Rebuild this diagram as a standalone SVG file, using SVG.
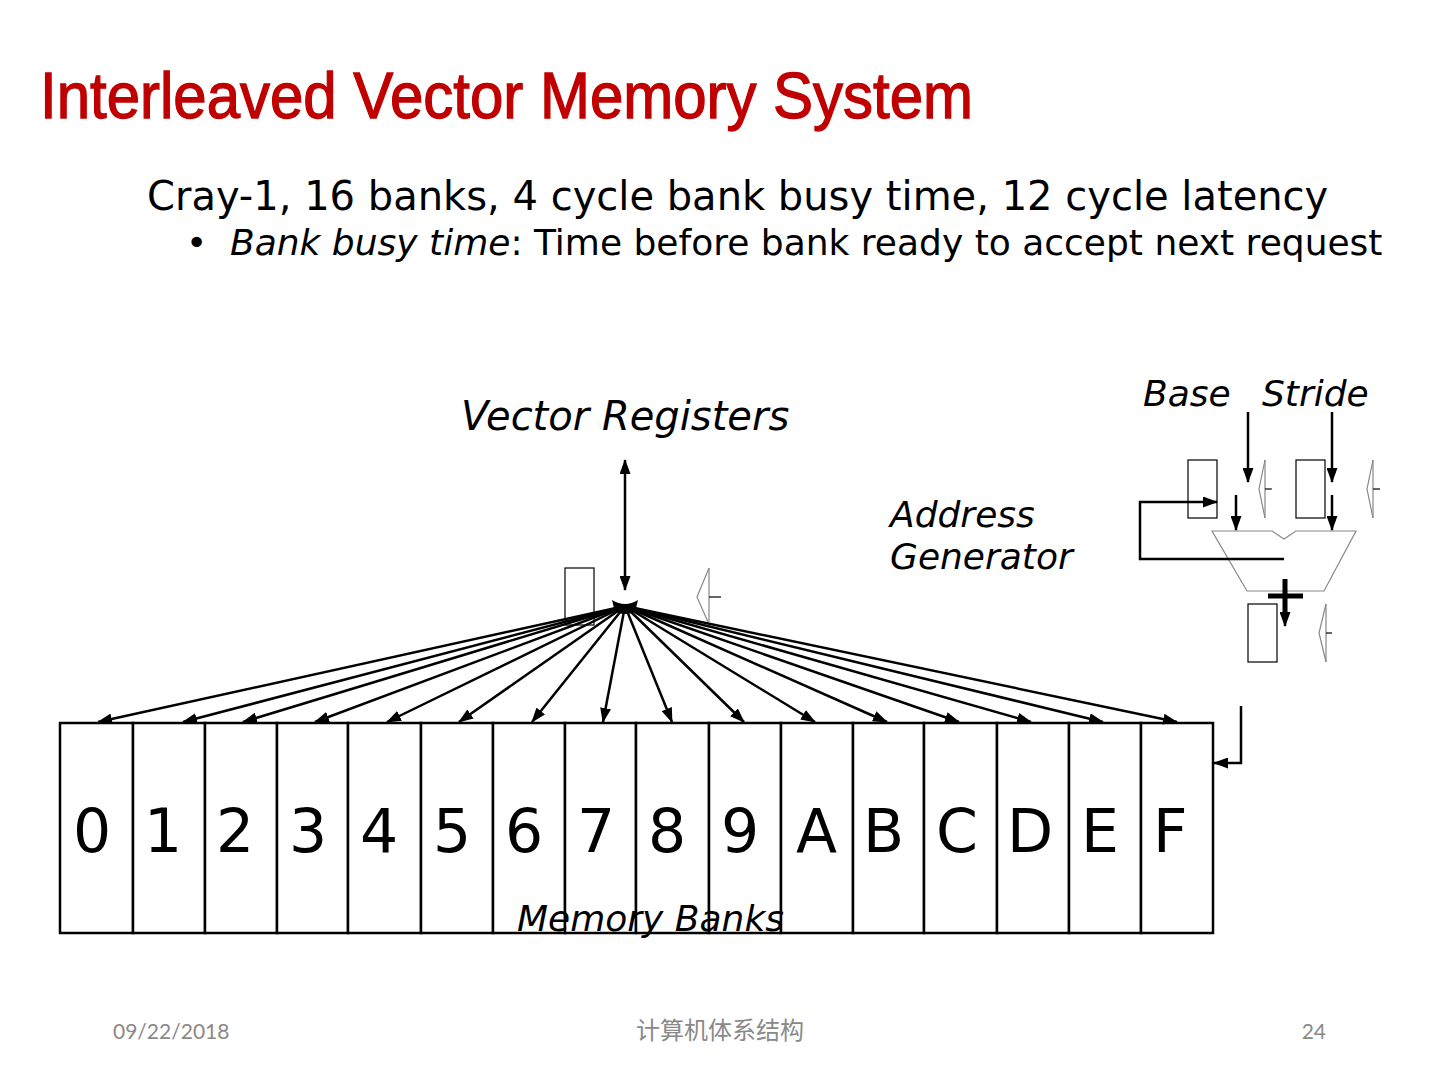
<svg xmlns="http://www.w3.org/2000/svg" width="1440" height="1080" viewBox="0 0 1440 1080">
<defs>
<style>
.t{font-family:"DejaVu Sans","Noto Sans",sans-serif;fill:#000}
.it{font-style:italic}
.bank{fill:#fff;stroke:#000;stroke-width:2.5}
.dig{font-family:"DejaVu Sans",sans-serif;font-size:60px;fill:#000}
.reg{fill:#fff;stroke:#000;stroke-width:1.2}
.clk{fill:none;stroke:#888;stroke-width:1.2}
.tick{stroke:#000;stroke-width:1.2}
.ln{stroke:#000;stroke-width:2.5;fill:none}
.foot{font-family:Lato,"Open Sans","Noto Sans CJK SC",sans-serif;font-size:21px;fill:#898989}
</style>
<marker id="ah" markerUnits="userSpaceOnUse" markerWidth="15" markerHeight="11" refX="14" refY="5.5" orient="auto">
<path d="M0,0 L15,5.5 L0,11 Z" fill="#000"/>
</marker>
<marker id="ahs" markerUnits="userSpaceOnUse" markerWidth="15" markerHeight="11" refX="1" refY="5.5" orient="auto">
<path d="M15,0 L0,5.5 L15,11 Z" fill="#000"/>
</marker>
</defs>
<rect width="1440" height="1080" fill="#fff"/>

<g id="title">
<text x="40" y="118" font-family="'Liberation Sans',Arial,sans-serif" font-size="65" fill="#C00000" stroke="#C00000" stroke-width="1.3" textLength="933" lengthAdjust="spacingAndGlyphs">Interleaved Vector Memory System</text>
</g>

<g id="body-text">
<text class="t" x="147" y="210" font-size="40">Cray-1, 16 banks, 4 cycle bank busy time, 12 cycle latency</text>
<text class="t" x="186" y="255" font-size="36">•</text>
<text class="t" x="230" y="255" font-size="36"><tspan class="it">Bank busy time</tspan>: Time before bank ready to accept next request</text>
</g>

<g id="vector-registers">
<text class="t it" x="461" y="430" font-size="40">Vector Registers</text>
<rect class="reg" x="565" y="568" width="29" height="57"/>
<polyline class="clk" points="709,568 697,597 708,622"/>
<line class="clk" x1="709" y1="568" x2="709" y2="622"/>
<line class="tick" x1="709" y1="597" x2="721" y2="597"/>
<path d="M612,600 Q625,608 638,600 L635,612 Q625,616 615,612 Z" fill="#000"/>
</g>

<g id="address-generator">
<text class="t it" x="890" y="527" font-size="36">Address</text>
<text class="t it" x="890" y="569" font-size="36">Generator</text>
<text class="t it" x="1143" y="406" font-size="36">Base</text>
<text class="t it" x="1262" y="406" font-size="36">Stride</text>
<rect class="reg" x="1188" y="460" width="29" height="58"/>
<polyline class="clk" points="1265,460 1259,489 1265,518"/>
<line class="clk" x1="1265" y1="460" x2="1265" y2="518"/>
<line class="tick" x1="1265" y1="489" x2="1272" y2="489"/>
<rect class="reg" x="1296" y="460" width="29" height="58"/>
<polyline class="clk" points="1373,460 1367,489 1373,518"/>
<line class="clk" x1="1373" y1="460" x2="1373" y2="518"/>
<line class="tick" x1="1373" y1="489" x2="1380" y2="489"/>
<path d="M1212,531 L1272,531 L1284,539 L1296,531 L1356,531 L1324,591 L1247,591 Z" fill="none" stroke="#888" stroke-width="1.2"/>
<line x1="1285" y1="579" x2="1285" y2="613" stroke="#000" stroke-width="5"/>
<line x1="1268" y1="596" x2="1303" y2="596" stroke="#000" stroke-width="5"/>
<rect class="reg" x="1248" y="604" width="29" height="58"/>
<polyline class="clk" points="1326,604 1319,633 1326,662"/>
<line class="clk" x1="1326" y1="604" x2="1326" y2="662"/>
<line class="tick" x1="1326" y1="633" x2="1332" y2="633"/>
</g>

<g id="memory-banks">
<rect class="bank" x="60" y="723" width="73" height="210"/>
<rect class="bank" x="133" y="723" width="72" height="210"/>
<rect class="bank" x="205" y="723" width="72" height="210"/>
<rect class="bank" x="277" y="723" width="71" height="210"/>
<rect class="bank" x="348" y="723" width="73" height="210"/>
<rect class="bank" x="421" y="723" width="72" height="210"/>
<rect class="bank" x="493" y="723" width="72" height="210"/>
<rect class="bank" x="565" y="723" width="71" height="210"/>
<rect class="bank" x="636" y="723" width="73" height="210"/>
<rect class="bank" x="709" y="723" width="72" height="210"/>
<rect class="bank" x="781" y="723" width="72" height="210"/>
<rect class="bank" x="853" y="723" width="71" height="210"/>
<rect class="bank" x="924" y="723" width="73" height="210"/>
<rect class="bank" x="997" y="723" width="72" height="210"/>
<rect class="bank" x="1069" y="723" width="72" height="210"/>
<rect class="bank" x="1141" y="723" width="72" height="210"/>
<text class="dig" x="73" y="852">0</text>
<text class="dig" x="144" y="852">1</text>
<text class="dig" x="216" y="852">2</text>
<text class="dig" x="289" y="852">3</text>
<text class="dig" x="360" y="852">4</text>
<text class="dig" x="433" y="852">5</text>
<text class="dig" x="505" y="852">6</text>
<text class="dig" x="577" y="852">7</text>
<text class="dig" x="648" y="852">8</text>
<text class="dig" x="721" y="852">9</text>
<text class="dig" x="796" y="852">A</text>
<text class="dig" x="863" y="852">B</text>
<text class="dig" x="936" y="852">C</text>
<text class="dig" x="1007" y="852">D</text>
<text class="dig" x="1081" y="852">E</text>
<text class="dig" x="1153" y="852">F</text>
<text class="t it" x="517" y="931" font-size="36">Memory Banks</text>
</g>

<g id="connectors">
<line class="ln" x1="625" y1="460" x2="625" y2="590" marker-start="url(#ahs)" marker-end="url(#ah)"/>
<line class="ln" x1="625" y1="606" x2="98" y2="722" marker-end="url(#ah)"/>
<line class="ln" x1="625" y1="606" x2="183" y2="722" marker-end="url(#ah)"/>
<line class="ln" x1="625" y1="606" x2="243" y2="722" marker-end="url(#ah)"/>
<line class="ln" x1="625" y1="606" x2="315" y2="722" marker-end="url(#ah)"/>
<line class="ln" x1="625" y1="606" x2="387" y2="722" marker-end="url(#ah)"/>
<line class="ln" x1="625" y1="606" x2="459" y2="722" marker-end="url(#ah)"/>
<line class="ln" x1="625" y1="606" x2="532" y2="722" marker-end="url(#ah)"/>
<line class="ln" x1="625" y1="606" x2="603" y2="722" marker-end="url(#ah)"/>
<line class="ln" x1="625" y1="606" x2="672" y2="722" marker-end="url(#ah)"/>
<line class="ln" x1="625" y1="606" x2="744" y2="722" marker-end="url(#ah)"/>
<line class="ln" x1="625" y1="606" x2="815" y2="722" marker-end="url(#ah)"/>
<line class="ln" x1="625" y1="606" x2="887" y2="722" marker-end="url(#ah)"/>
<line class="ln" x1="625" y1="606" x2="959" y2="722" marker-end="url(#ah)"/>
<line class="ln" x1="625" y1="606" x2="1031" y2="722" marker-end="url(#ah)"/>
<line class="ln" x1="625" y1="606" x2="1103" y2="722" marker-end="url(#ah)"/>
<line class="ln" x1="625" y1="606" x2="1177" y2="722" marker-end="url(#ah)"/>
<line class="ln" x1="1248" y1="412" x2="1248" y2="482" marker-end="url(#ah)"/>
<line class="ln" x1="1332" y1="412" x2="1332" y2="482" marker-end="url(#ah)"/>
<line class="ln" x1="1236" y1="495" x2="1236" y2="530" marker-end="url(#ah)"/>
<line class="ln" x1="1332" y1="495" x2="1332" y2="530" marker-end="url(#ah)"/>
<line class="ln" x1="1285" y1="610" x2="1285" y2="626" marker-end="url(#ah)"/>
<polyline class="ln" points="1284,559 1140,559 1140,502 1217,502" marker-end="url(#ah)"/>
<polyline class="ln" points="1241,706 1241,763 1214,763" marker-end="url(#ah)"/>
</g>

<g id="footer">
<text class="foot" x="113" y="1039">09/22/2018</text>
<text class="foot" x="720" y="1039" text-anchor="middle" font-size="24" style="font-size:24px">计算机体系结构</text>
<text class="foot" x="1326" y="1039" text-anchor="end">24</text>
</g>
</svg>
